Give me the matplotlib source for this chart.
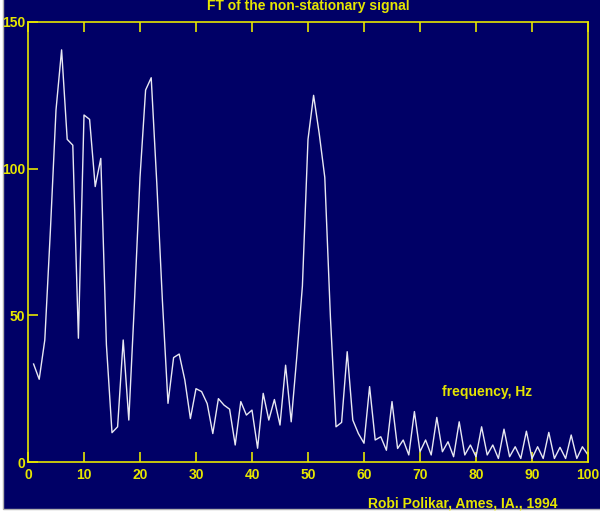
import matplotlib
matplotlib.use("Agg")
import matplotlib.pyplot as plt
from matplotlib.patches import Rectangle

# FT magnitude, one value per Hz (1..100)
freq = list(range(1, 101))
mag = [33.4, 28.2, 41.6, 79, 120, 140.5, 110, 108, 42.2, 118.3,
       116.8, 93.9, 103.5, 40, 10, 12, 41.6, 14.3, 54, 97,
       126.8, 131, 95, 55, 20, 35.6, 36.8, 28, 14.8, 25,
       24, 19.9, 9.7, 21.6, 19.4, 18, 5.8, 20.6, 16, 17.7,
       4.7, 23.4, 14.3, 21.3, 12.6, 33, 13.7, 35.9, 60, 110,
       125, 112, 97, 49.5, 12, 13.5, 37.6, 14.3, 9.7, 6.4,
       25.7, 7.5, 8.6, 4, 20.6, 4.6, 7.5, 2.4, 17.2, 3.5,
       7.5, 2.4, 15.2, 3.5, 6.9, 1.8, 13.7, 2.4, 5.8, 1.8,
       12, 2.4, 5.8, 1.2, 11.2, 1.8, 5.2, 1.2, 10.5, 1.2,
       5.2, 1.2, 10.1, 1.2, 5, 1.2, 9.2, 1.2, 5.2, 2.4]
xticks = list(range(0, 101, 10))
yticks = [0, 50, 100, 150]

title = "FT of the non-stationary signal"
xlabel = "frequency, Hz"
credit = "Robi Polikar, Ames, IA., 1994"

navy, yellow = "#000066", "#e6e600"
plt.rcParams["font.family"] = ["Liberation Sans", "DejaVu Sans"]
plt.rcParams["font.weight"] = "bold"
plt.rcParams["font.size"] = 10

fig = plt.figure(figsize=(6, 5.12), dpi=100)
fig.patch.set_facecolor("white")
fig.patches.append(Rectangle((3 / 600, 3 / 512), 1, 1, transform=fig.transFigure,
                             facecolor=navy, edgecolor="#b0b0b0", lw=1, zorder=-1))

ax = fig.add_axes([28 / 600, 50 / 512, 560 / 600, 440 / 512])
ax.set_facecolor(navy)
ax.plot(freq, mag, color="#e8e8f2", lw=1.0)
ax.set_xlim(0, 100); ax.set_ylim(0, 150)
ax.set_xticks(xticks); ax.set_yticks(yticks)
for s in ax.spines.values():
    s.set_color(yellow); s.set_linewidth(1.2)
ax.tick_params(direction="in", length=7, width=1.2, color=yellow, labelcolor=yellow, top=True, right=False)
ax.tick_params(axis="x", pad=4)
ax.tick_params(axis="y", pad=2)

fig.text(308 / 600, 1 - 6 / 512, title, color=yellow, ha="center", va="center")
fig.text(487 / 600, 1 - 392 / 512, xlabel, color=yellow, ha="center", va="center")
fig.text(463 / 600, 1 - 503 / 512, credit, color=yellow, ha="center", va="center")

fig.savefig("out.png", dpi=100, facecolor=fig.get_facecolor())
